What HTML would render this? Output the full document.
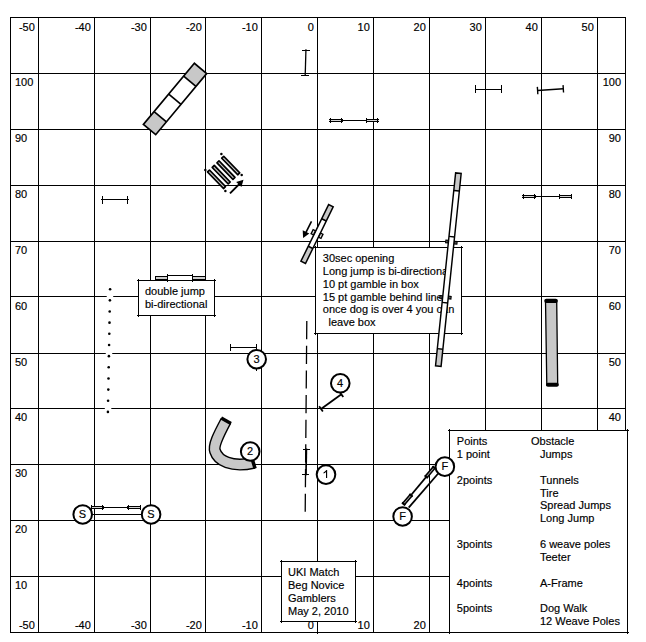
<!DOCTYPE html>
<html><head><meta charset="utf-8"><title>UKI Match - Beg Novice Gamblers</title>
<style>html,body{margin:0;padding:0;background:#fff;}svg{display:block;}</style></head>
<body>
<svg width="646" height="642" viewBox="0 0 646 642" font-family="Liberation Sans, sans-serif" font-size="11" fill="#000">
<style>text{stroke:#000;stroke-width:0.16px;}</style>
<rect width="646" height="642" fill="#fff"/>
<g shape-rendering="crispEdges" fill="#000">
<rect x="10" y="17" width="1" height="616"/>
<rect x="38" y="17" width="1" height="616"/>
<rect x="94" y="17" width="1" height="616"/>
<rect x="150" y="17" width="1" height="616"/>
<rect x="205" y="17" width="1" height="616"/>
<rect x="261" y="17" width="1" height="616"/>
<rect x="317" y="17" width="1" height="616"/>
<rect x="373" y="17" width="1" height="616"/>
<rect x="429" y="17" width="1" height="616"/>
<rect x="485" y="17" width="1" height="616"/>
<rect x="541" y="17" width="1" height="616"/>
<rect x="597" y="17" width="1" height="616"/>
<rect x="625" y="17" width="1" height="616"/>
<rect x="10" y="17" width="616" height="1"/>
<rect x="10" y="73" width="616" height="1"/>
<rect x="10" y="129" width="616" height="1"/>
<rect x="10" y="185" width="616" height="1"/>
<rect x="10" y="241" width="616" height="1"/>
<rect x="10" y="296" width="616" height="1"/>
<rect x="10" y="353" width="616" height="1"/>
<rect x="10" y="408" width="616" height="1"/>
<rect x="10" y="464" width="616" height="1"/>
<rect x="10" y="520" width="616" height="1"/>
<rect x="10" y="576" width="616" height="1"/>
<rect x="10" y="632" width="616" height="1"/>
</g>
<rect x="317" y="633" width="1" height="1" fill="#000" shape-rendering="crispEdges"/>
<text x="34.80" y="30.70" text-anchor="end" >-50</text>
<text x="34.80" y="628.60" text-anchor="end" >-50</text>
<text x="90.80" y="30.70" text-anchor="end" >-40</text>
<text x="90.80" y="628.60" text-anchor="end" >-40</text>
<text x="146.80" y="30.70" text-anchor="end" >-30</text>
<text x="146.80" y="628.60" text-anchor="end" >-30</text>
<text x="201.80" y="30.70" text-anchor="end" >-20</text>
<text x="201.80" y="628.60" text-anchor="end" >-20</text>
<text x="257.80" y="30.70" text-anchor="end" >-10</text>
<text x="257.80" y="628.60" text-anchor="end" >-10</text>
<text x="313.80" y="30.70" text-anchor="end" >0</text>
<text x="313.80" y="628.60" text-anchor="end" >0</text>
<text x="369.80" y="30.70" text-anchor="end" >10</text>
<text x="369.80" y="628.60" text-anchor="end" >10</text>
<text x="425.80" y="30.70" text-anchor="end" >20</text>
<text x="425.80" y="628.60" text-anchor="end" >20</text>
<text x="481.80" y="30.70" text-anchor="end" >30</text>
<text x="481.80" y="628.60" text-anchor="end" >30</text>
<text x="537.80" y="30.70" text-anchor="end" >40</text>
<text x="537.80" y="628.60" text-anchor="end" >40</text>
<text x="593.80" y="30.70" text-anchor="end" >50</text>
<text x="593.80" y="628.60" text-anchor="end" >50</text>
<text x="15.00" y="86.30" text-anchor="start" >100</text>
<text x="621.00" y="86.30" text-anchor="end" >100</text>
<text x="15.00" y="142.30" text-anchor="start" >90</text>
<text x="621.00" y="142.30" text-anchor="end" >90</text>
<text x="15.00" y="198.30" text-anchor="start" >80</text>
<text x="621.00" y="198.30" text-anchor="end" >80</text>
<text x="15.00" y="254.30" text-anchor="start" >70</text>
<text x="621.00" y="254.30" text-anchor="end" >70</text>
<text x="15.00" y="310.20" text-anchor="start" >60</text>
<text x="621.00" y="310.20" text-anchor="end" >60</text>
<text x="15.00" y="366.30" text-anchor="start" >50</text>
<text x="621.00" y="366.30" text-anchor="end" >50</text>
<text x="15.00" y="421.30" text-anchor="start" >40</text>
<text x="621.00" y="421.30" text-anchor="end" >40</text>
<text x="15.00" y="477.30" text-anchor="start" >30</text>
<text x="621.00" y="477.30" text-anchor="end" >30</text>
<text x="15.00" y="533.30" text-anchor="start" >20</text>
<text x="621.00" y="533.30" text-anchor="end" >20</text>
<text x="15.00" y="589.30" text-anchor="start" >10</text>
<text x="621.00" y="589.30" text-anchor="end" >10</text>
<polygon points="194.35,63.28 143.40,124.43 155.70,134.67 206.65,73.52" fill="#fff" stroke="none"/>
<polygon points="194.35,63.28 183.65,76.12 195.95,86.36 206.65,73.52" fill="#c8c8c8" stroke="none"/>
<polygon points="154.10,111.59 143.40,124.43 155.70,134.67 166.40,121.83" fill="#c8c8c8" stroke="none"/>
<line x1="183.65" y1="76.12" x2="195.95" y2="86.36" stroke="#000" stroke-width="1.7" />
<line x1="168.73" y1="94.04" x2="181.02" y2="104.28" stroke="#000" stroke-width="1.7" />
<line x1="154.10" y1="111.59" x2="166.40" y2="121.83" stroke="#000" stroke-width="1.7" />
<polygon points="194.35,63.28 143.40,124.43 155.70,134.67 206.65,73.52" fill="none" stroke="#000" stroke-width="1.7" stroke-linejoin="miter"/>
<g transform="translate(223.6,172.4) rotate(46)">
<rect x="-11.5" y="8.50" width="23.0" height="2.8" fill="#c8c8c8" stroke="#000" stroke-width="1.7" stroke-linejoin="round"/>
<rect x="-11.5" y="1.90" width="23.0" height="2.8" fill="#c8c8c8" stroke="#000" stroke-width="1.7" stroke-linejoin="round"/>
<rect x="-11.5" y="-4.70" width="23.0" height="2.8" fill="#c8c8c8" stroke="#000" stroke-width="1.7" stroke-linejoin="round"/>
<rect x="-11.5" y="-11.30" width="23.0" height="2.8" fill="#c8c8c8" stroke="#000" stroke-width="1.7" stroke-linejoin="round"/>
</g>
<circle cx="221.4" cy="154.0" r="1.25" fill="#000"/>
<circle cx="241.7" cy="175.0" r="1.25" fill="#000"/>
<circle cx="225.4" cy="190.9" r="1.25" fill="#000"/>
<circle cx="205.3" cy="169.9" r="1.25" fill="#000"/>
<line x1="230.00" y1="193.30" x2="240.00" y2="183.30" stroke="#000" stroke-width="1.9" />
<polygon points="243.5,179.8 236.2,181.9 241.4,187.1" fill="#000"/>
<rect x="302" y="50" width="8" height="1" fill="#000" shape-rendering="crispEdges"/>
<rect x="301" y="75" width="8" height="1" fill="#000" shape-rendering="crispEdges"/>
<line x1="305.95" y1="49.30" x2="305.20" y2="75.60" stroke="#000" stroke-width="1.3" />
<rect x="475" y="89" width="27" height="1" fill="#000" shape-rendering="crispEdges"/>
<rect x="475" y="85" width="1" height="8" fill="#000" shape-rendering="crispEdges"/>
<rect x="501" y="85" width="1" height="8" fill="#000" shape-rendering="crispEdges"/>
<line x1="537.60" y1="90.55" x2="563.30" y2="88.80" stroke="#000" stroke-width="1.4" />
<line x1="537.35" y1="86.86" x2="537.85" y2="94.24" stroke="#000" stroke-width="1.4" />
<line x1="563.05" y1="85.11" x2="563.55" y2="92.49" stroke="#000" stroke-width="1.4" />
<rect x="101" y="199" width="28" height="1" fill="#000" shape-rendering="crispEdges"/>
<rect x="102" y="196" width="1" height="8" fill="#000" shape-rendering="crispEdges"/>
<rect x="127" y="196" width="1" height="8" fill="#000" shape-rendering="crispEdges"/>
<rect x="230" y="347" width="27" height="1" fill="#000" shape-rendering="crispEdges"/>
<rect x="230" y="344" width="1" height="7" fill="#000" shape-rendering="crispEdges"/>
<rect x="256" y="344" width="1" height="7" fill="#000" shape-rendering="crispEdges"/>
<line x1="321.00" y1="408.90" x2="341.40" y2="394.30" stroke="#000" stroke-width="1.8" />
<line x1="319.14" y1="406.30" x2="322.86" y2="411.50" stroke="#000" stroke-width="1.8" />
<line x1="339.54" y1="391.70" x2="343.26" y2="396.90" stroke="#000" stroke-width="1.8" />
<rect x="330" y="120" width="48" height="1" fill="#000" shape-rendering="crispEdges"/>
<rect x="329" y="119" width="14" height="3" fill="#d4d4d4" shape-rendering="crispEdges"/>
<rect x="329" y="119" width="14" height="1" fill="#000" shape-rendering="crispEdges"/>
<rect x="329" y="121" width="14" height="1" fill="#000" shape-rendering="crispEdges"/>
<rect x="330" y="118" width="1" height="5" fill="#000" shape-rendering="crispEdges"/>
<rect x="341" y="118" width="1" height="5" fill="#000" shape-rendering="crispEdges"/>
<rect x="366" y="119" width="13" height="3" fill="#d4d4d4" shape-rendering="crispEdges"/>
<rect x="366" y="119" width="13" height="1" fill="#000" shape-rendering="crispEdges"/>
<rect x="366" y="121" width="13" height="1" fill="#000" shape-rendering="crispEdges"/>
<rect x="366" y="118" width="1" height="5" fill="#000" shape-rendering="crispEdges"/>
<rect x="377" y="118" width="1" height="5" fill="#000" shape-rendering="crispEdges"/>
<rect x="341" y="119" width="2" height="3" fill="#000" shape-rendering="crispEdges"/>
<rect x="523" y="196" width="49" height="1" fill="#000" shape-rendering="crispEdges"/>
<rect x="522" y="195" width="14" height="3" fill="#d4d4d4" shape-rendering="crispEdges"/>
<rect x="522" y="195" width="14" height="1" fill="#000" shape-rendering="crispEdges"/>
<rect x="522" y="197" width="14" height="1" fill="#000" shape-rendering="crispEdges"/>
<rect x="523" y="194" width="1" height="5" fill="#000" shape-rendering="crispEdges"/>
<rect x="534" y="194" width="1" height="5" fill="#000" shape-rendering="crispEdges"/>
<rect x="559" y="195" width="13" height="3" fill="#d4d4d4" shape-rendering="crispEdges"/>
<rect x="559" y="195" width="13" height="1" fill="#000" shape-rendering="crispEdges"/>
<rect x="559" y="197" width="13" height="1" fill="#000" shape-rendering="crispEdges"/>
<rect x="559" y="194" width="1" height="5" fill="#000" shape-rendering="crispEdges"/>
<rect x="571" y="194" width="1" height="5" fill="#000" shape-rendering="crispEdges"/>
<rect x="534" y="195" width="2" height="3" fill="#000" shape-rendering="crispEdges"/>
<polygon points="328.61,204.58 300.91,261.28 305.49,263.52 333.19,206.82" fill="#fff" stroke="none"/>
<polygon points="328.61,204.58 321.68,218.76 326.27,220.99 333.19,206.82" fill="#c8c8c8" stroke="none"/>
<polygon points="308.25,246.26 300.91,261.28 305.49,263.52 312.83,248.49" fill="#c8c8c8" stroke="none"/>
<line x1="321.68" y1="218.76" x2="326.27" y2="220.99" stroke="#000" stroke-width="1.5" />
<line x1="308.25" y1="246.26" x2="312.83" y2="248.49" stroke="#000" stroke-width="1.5" />
<polygon points="328.61,204.58 300.91,261.28 305.49,263.52 333.19,206.82" fill="none" stroke="#000" stroke-width="1.5" stroke-linejoin="miter"/>
<rect x="-1.3" y="-2.3" width="2.6" height="4.6" fill="#e6e6e6" stroke="#000" stroke-width="1.35" transform="translate(313.3,232.2) rotate(26)"/>
<rect x="-1.3" y="-2.3" width="2.6" height="4.6" fill="#e6e6e6" stroke="#000" stroke-width="1.35" transform="translate(320.8,235.8) rotate(26)"/>
<line x1="311.50" y1="221.40" x2="305.20" y2="233.80" stroke="#000" stroke-width="1.6" />
<polygon points="303.1,237.9 302.7,230.2 309.3,233.6" fill="#000"/>
<polygon points="545.5,300.5 556.7,300.5 557.7,385 546.8,385" fill="#c8c8c8" stroke="#000" stroke-width="1.3"/>
<rect x="544.3" y="298.8" width="13.5" height="4.2" rx="2.1" ry="1.9" fill="#000"/>
<rect x="546.0" y="382.8" width="12.7" height="3.9" rx="1.9" ry="1.7" fill="#000"/>
<path d="M226,420.7 C219,434 213,445 215,451 C218,460.5 231,468 254,462.8" fill="none" stroke="#000" stroke-width="12"/>
<path d="M226,420.7 C219,434 213,445 215,451 C218,460.5 231,468 254,462.8" fill="none" stroke="#c8c8c8" stroke-width="9.2"/>
<line x1="221.20" y1="418.00" x2="231.00" y2="423.50" stroke="#000" stroke-width="3.4" />
<line x1="251.70" y1="457.50" x2="255.10" y2="468.40" stroke="#000" stroke-width="3.5" />
<polygon points="106.9,285.5 113.4,285.5 111.2,415.5 104.7,415.5" fill="#fff"/>
<circle cx="110.10" cy="289.20" r="1.3" fill="#000"/>
<circle cx="109.90" cy="300.35" r="1.3" fill="#000"/>
<circle cx="109.70" cy="311.51" r="1.3" fill="#000"/>
<circle cx="109.50" cy="322.66" r="1.3" fill="#000"/>
<circle cx="109.30" cy="333.82" r="1.3" fill="#000"/>
<circle cx="109.10" cy="344.97" r="1.3" fill="#000"/>
<circle cx="108.90" cy="356.13" r="1.3" fill="#000"/>
<circle cx="108.70" cy="367.28" r="1.3" fill="#000"/>
<circle cx="108.50" cy="378.44" r="1.3" fill="#000"/>
<circle cx="108.30" cy="389.59" r="1.3" fill="#000"/>
<circle cx="108.10" cy="400.75" r="1.3" fill="#000"/>
<circle cx="107.90" cy="411.90" r="1.3" fill="#000"/>
<line x1="306.80" y1="321.10" x2="305.20" y2="512.50" stroke="#000" stroke-width="1.3" stroke-dasharray="18.2 6.45"/>
<rect x="303" y="449" width="7" height="1" fill="#000" shape-rendering="crispEdges"/>
<rect x="302" y="474" width="7" height="1" fill="#000" shape-rendering="crispEdges"/>
<line x1="306.40" y1="448.50" x2="306.00" y2="475.20" stroke="#000" stroke-width="1.7" />
<rect x="91" y="507" width="50" height="1" fill="#000" shape-rendering="crispEdges"/>
<rect x="91" y="514" width="50" height="1" fill="#000" shape-rendering="crispEdges"/>
<rect x="91" y="506" width="13" height="3" fill="#d4d4d4" shape-rendering="crispEdges"/>
<rect x="91" y="506" width="13" height="1" fill="#000" shape-rendering="crispEdges"/>
<rect x="91" y="508" width="13" height="1" fill="#000" shape-rendering="crispEdges"/>
<rect x="91" y="505" width="1" height="5" fill="#000" shape-rendering="crispEdges"/>
<rect x="102" y="505" width="1" height="5" fill="#000" shape-rendering="crispEdges"/>
<rect x="127" y="506" width="14" height="3" fill="#d4d4d4" shape-rendering="crispEdges"/>
<rect x="127" y="506" width="14" height="1" fill="#000" shape-rendering="crispEdges"/>
<rect x="127" y="508" width="14" height="1" fill="#000" shape-rendering="crispEdges"/>
<rect x="128" y="505" width="1" height="5" fill="#000" shape-rendering="crispEdges"/>
<rect x="140" y="505" width="1" height="5" fill="#000" shape-rendering="crispEdges"/>
<rect x="102" y="506" width="2" height="3" fill="#000" shape-rendering="crispEdges"/>
<rect x="127" y="506" width="2" height="3" fill="#000" shape-rendering="crispEdges"/>
<line x1="403.40" y1="504.20" x2="434.20" y2="467.40" stroke="#000" stroke-width="1.75" />
<line x1="408.70" y1="507.60" x2="438.00" y2="473.70" stroke="#000" stroke-width="1.75" />
<polygon points="404.28,504.94 412.08,495.74 410.32,494.26 402.52,503.46" fill="#b8b8b8" stroke="#000" stroke-width="1.55"/>
<line x1="402.12" y1="502.46" x2="405.33" y2="505.18" stroke="#000" stroke-width="1.55" />
<line x1="409.27" y1="494.02" x2="412.48" y2="496.74" stroke="#000" stroke-width="1.55" />
<polygon points="426.98,477.74 435.08,468.14 433.32,466.66 425.22,476.26" fill="#b8b8b8" stroke="#000" stroke-width="1.55"/>
<line x1="424.82" y1="475.26" x2="428.03" y2="477.97" stroke="#000" stroke-width="1.55" />
<line x1="432.27" y1="466.43" x2="435.48" y2="469.14" stroke="#000" stroke-width="1.55" />
<rect x="138" y="280" width="77" height="36" fill="#fff" shape-rendering="crispEdges"/>
<rect x="137" y="280" width="79" height="1" fill="#000" shape-rendering="crispEdges"/>
<rect x="137" y="315" width="79" height="1" fill="#000" shape-rendering="crispEdges"/>
<rect x="138" y="279" width="1" height="38" fill="#000" shape-rendering="crispEdges"/>
<rect x="214" y="279" width="1" height="38" fill="#000" shape-rendering="crispEdges"/>
<rect x="167" y="275" width="26" height="1" fill="#000" shape-rendering="crispEdges"/>
<rect x="155" y="276" width="13" height="4" fill="#cdcdcd" shape-rendering="crispEdges"/>
<rect x="155" y="276" width="13" height="1" fill="#000" shape-rendering="crispEdges"/>
<rect x="155" y="279" width="13" height="1" fill="#000" shape-rendering="crispEdges"/>
<rect x="155" y="276" width="1" height="4" fill="#000" shape-rendering="crispEdges"/>
<rect x="167" y="276" width="1" height="4" fill="#000" shape-rendering="crispEdges"/>
<rect x="192" y="276" width="14" height="4" fill="#cdcdcd" shape-rendering="crispEdges"/>
<rect x="192" y="276" width="14" height="1" fill="#000" shape-rendering="crispEdges"/>
<rect x="192" y="279" width="14" height="1" fill="#000" shape-rendering="crispEdges"/>
<rect x="192" y="276" width="1" height="4" fill="#000" shape-rendering="crispEdges"/>
<rect x="205" y="276" width="1" height="4" fill="#000" shape-rendering="crispEdges"/>
<rect x="167" y="274" width="1" height="8" fill="#000" shape-rendering="crispEdges"/>
<rect x="192" y="274" width="1" height="8" fill="#000" shape-rendering="crispEdges"/>
<text x="145.00" y="295.00" text-anchor="start" >double jump</text>
<text x="145.00" y="307.70" text-anchor="start" >bi-directional</text>
<rect x="315" y="247" width="147" height="87" fill="#fff" shape-rendering="crispEdges"/>
<rect x="314" y="247" width="149" height="1" fill="#000" shape-rendering="crispEdges"/>
<rect x="314" y="333" width="149" height="1" fill="#000" shape-rendering="crispEdges"/>
<rect x="315" y="246" width="1" height="89" fill="#000" shape-rendering="crispEdges"/>
<rect x="461" y="246" width="1" height="89" fill="#000" shape-rendering="crispEdges"/>
<text x="322.80" y="261.50" text-anchor="start" >30sec opening</text>
<text x="322.80" y="274.60" text-anchor="start" >Long jump is bi-directional</text>
<text x="322.80" y="287.50" text-anchor="start" >10 pt gamble in box</text>
<text x="322.80" y="301.40" text-anchor="start" >15 pt gamble behind line</text>
<text x="322.80" y="312.80" text-anchor="start" >once dog is over 4 you can</text>
<text x="328.50" y="325.70" text-anchor="start" >leave box</text>
<rect x="281" y="561" width="75" height="61" fill="#fff" shape-rendering="crispEdges"/>
<rect x="280" y="561" width="77" height="1" fill="#000" shape-rendering="crispEdges"/>
<rect x="280" y="621" width="77" height="1" fill="#000" shape-rendering="crispEdges"/>
<rect x="281" y="560" width="1" height="63" fill="#000" shape-rendering="crispEdges"/>
<rect x="355" y="560" width="1" height="63" fill="#000" shape-rendering="crispEdges"/>
<text x="288.00" y="575.50" text-anchor="start" >UKI Match</text>
<text x="288.00" y="588.50" text-anchor="start" >Beg Novice</text>
<text x="288.00" y="601.50" text-anchor="start" >Gamblers</text>
<text x="288.00" y="614.50" text-anchor="start" >May 2, 2010</text>
<rect x="449" y="430" width="179" height="203" fill="#fff" shape-rendering="crispEdges"/>
<rect x="448" y="430" width="181" height="1" fill="#000" shape-rendering="crispEdges"/>
<rect x="448" y="632" width="181" height="1" fill="#000" shape-rendering="crispEdges"/>
<rect x="449" y="429" width="1" height="205" fill="#000" shape-rendering="crispEdges"/>
<rect x="627" y="429" width="1" height="205" fill="#000" shape-rendering="crispEdges"/>
<text x="456.80" y="444.90" text-anchor="start" >Points</text>
<text x="531.00" y="444.90" text-anchor="start" >Obstacle</text>
<text x="456.80" y="458.00" text-anchor="start" >1 point</text>
<text x="540.00" y="458.00" text-anchor="start" >Jumps</text>
<text x="456.80" y="483.90" text-anchor="start" >2points</text>
<text x="540.00" y="483.90" text-anchor="start" >Tunnels</text>
<text x="540.00" y="496.70" text-anchor="start" >Tire</text>
<text x="540.00" y="509.20" text-anchor="start" >Spread Jumps</text>
<text x="540.00" y="522.00" text-anchor="start" >Long Jump</text>
<text x="456.80" y="547.50" text-anchor="start" >3points</text>
<text x="540.00" y="547.50" text-anchor="start" >6 weave poles</text>
<text x="540.00" y="560.70" text-anchor="start" >Teeter</text>
<text x="456.80" y="587.00" text-anchor="start" >4points</text>
<text x="540.00" y="587.00" text-anchor="start" >A-Frame</text>
<text x="456.80" y="611.80" text-anchor="start" >5points</text>
<text x="540.00" y="611.80" text-anchor="start" >Dog Walk</text>
<text x="540.00" y="624.60" text-anchor="start" >12 Weave Poles</text>
<polygon points="455.62,172.91 435.52,365.81 441.08,366.39 461.18,173.49" fill="#fff" stroke="none"/>
<polygon points="455.62,172.91 453.79,190.46 459.36,191.04 461.18,173.49" fill="#c8c8c8" stroke="none"/>
<polygon points="437.30,348.64 435.52,365.81 441.08,366.39 442.87,349.22" fill="#c8c8c8" stroke="none"/>
<line x1="453.79" y1="190.46" x2="459.36" y2="191.04" stroke="#000" stroke-width="1.45" />
<line x1="449.00" y1="236.37" x2="454.57" y2="236.95" stroke="#000" stroke-width="1.45" />
<line x1="442.13" y1="302.35" x2="447.70" y2="302.93" stroke="#000" stroke-width="1.45" />
<line x1="437.30" y1="348.64" x2="442.87" y2="349.22" stroke="#000" stroke-width="1.45" />
<polygon points="455.62,172.91 435.52,365.81 441.08,366.39 461.18,173.49" fill="none" stroke="#000" stroke-width="1.45" stroke-linejoin="miter"/>
<rect x="-1.1" y="-1.3" width="2.2" height="2.6" fill="#888" stroke="#000" stroke-width="1.2" transform="translate(446.9,241.5) rotate(6)"/>
<rect x="-1.1" y="-1.3" width="2.2" height="2.6" fill="#888" stroke="#000" stroke-width="1.2" transform="translate(455.9,242.8) rotate(6)"/>
<rect x="-1.1" y="-1.3" width="2.2" height="2.6" fill="#888" stroke="#000" stroke-width="1.2" transform="translate(441.0,297.0) rotate(6)"/>
<rect x="-1.1" y="-1.3" width="2.2" height="2.6" fill="#888" stroke="#000" stroke-width="1.2" transform="translate(449.9,297.6) rotate(6)"/>
<circle cx="326.00" cy="474.60" r="9.3" fill="#fff" stroke="#000" stroke-width="2.0"/>
<path d="M327.15,470.0 V477.95 H326.0 V471.9 Q324.9,472.9 323.5,473.45 V472.4 Q325.5,471.5 326.35,470.0 Z" fill="#000"/>
<circle cx="250.20" cy="451.50" r="9.3" fill="#fff" stroke="#000" stroke-width="2.0"/>
<text x="250.00" y="455.40" text-anchor="middle" >2</text>
<circle cx="256.70" cy="359.20" r="9.3" fill="#fff" stroke="#000" stroke-width="2.0"/>
<text x="256.50" y="363.00" text-anchor="middle" >3</text>
<rect x="256" y="368" width="1" height="3" fill="#000" shape-rendering="crispEdges"/>
<circle cx="340.28" cy="383.26" r="9.3" fill="#fff" stroke="#000" stroke-width="2.0"/>
<text x="340.00" y="386.90" text-anchor="middle" >4</text>
<circle cx="82.70" cy="514.45" r="9.3" fill="#fff" stroke="#000" stroke-width="2.0"/>
<text x="82.50" y="518.20" text-anchor="middle" >S</text>
<circle cx="151.10" cy="514.45" r="9.3" fill="#fff" stroke="#000" stroke-width="2.0"/>
<text x="150.90" y="518.20" text-anchor="middle" >S</text>
<circle cx="444.85" cy="466.65" r="9.3" fill="#fff" stroke="#000" stroke-width="2.0"/>
<text x="444.90" y="470.40" text-anchor="middle" >F</text>
<circle cx="402.60" cy="516.45" r="9.3" fill="#fff" stroke="#000" stroke-width="2.0"/>
<text x="402.70" y="520.20" text-anchor="middle" >F</text>
</svg>
</body></html>
